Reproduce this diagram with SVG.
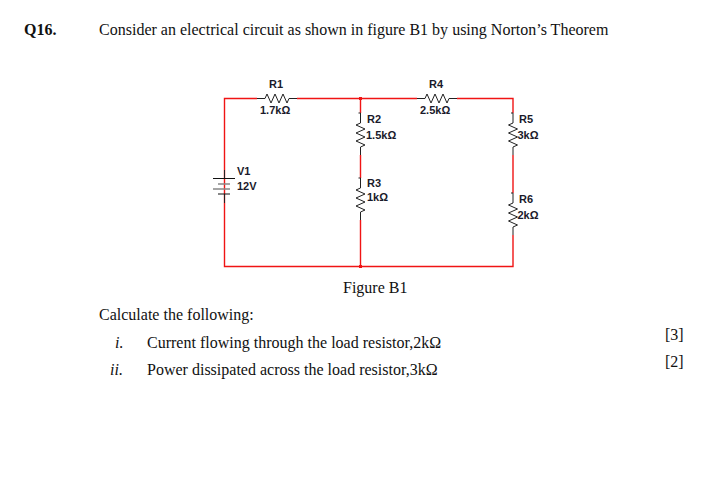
<svg xmlns="http://www.w3.org/2000/svg" width="714" height="487" viewBox="0 0 714 487">
<style>
.t{font-family:"Liberation Serif","Times New Roman",serif;font-size:16.03px;fill:#111}
.i{font-style:italic}
.b{font-weight:bold}
.l{font-family:"Liberation Sans",Arial,sans-serif;font-size:11px;font-weight:bold;fill:#1a1a2a}
.w{fill:none;stroke:#f01414;stroke-width:1.4}
.k{fill:none;stroke:#222;stroke-width:1}
.p{fill:none;stroke:#111;stroke-width:1.2}
.g{fill:none;stroke:#888;stroke-width:1.6}
</style>
<defs>
<path id="rh" class="k" d="M0 0H8L10 -4.500L14 4.500L18 -4.500L22 4.500L26 -4.500L30 4.500L32 0H40"/>
<path id="rv" class="k" d="M-2 0H0V10L-4.500 12L4.500 16L-4.500 20L4.500 24L-4.500 28L4.500 32L0 34V42"/>
</defs>
<rect width="714" height="487" fill="#fff"/>
<g id="connectors">
<path class="w" d="M257 98.500H224.500V203M224.500 203V266.500H513V235M513 193V155M513 113V98.500H457M417 98.500H297M360.500 98.500V113M360.500 155V178M360.500 220V266.500"/>
<rect x="359" y="97" width="3" height="3" fill="#f01414"/>
<rect x="359" y="265" width="3" height="3" fill="#f01414"/>
</g>
<g id="R1"><use href="#rh" x="257" y="98.500"/><text class="l" x="269" y="87.500">R1</text><text class="l" x="260" y="114">1.7kΩ</text></g>
<g id="R4"><use href="#rh" x="417" y="98.500"/><text class="l" x="429" y="87.500">R4</text><text class="l" x="420" y="114">2.5kΩ</text></g>
<g id="R2"><use href="#rv" x="360.500" y="113"/><text class="l" x="367" y="123">R2</text><text class="l" x="366" y="139">1.5kΩ</text></g>
<g id="R3"><use href="#rv" x="360.500" y="178"/><text class="l" x="367" y="187">R3</text><text class="l" x="367" y="201">1kΩ</text></g>
<g id="R5"><use href="#rv" x="513" y="113"/><text class="l" x="519" y="123">R5</text><text class="l" x="517.500" y="139">3kΩ</text></g>
<g id="R6"><use href="#rv" x="513" y="193"/><text class="l" x="519" y="203">R6</text><text class="l" x="517.500" y="219">2kΩ</text></g>
<g id="V1">
<path class="k" d="M224.500 170V178M224.500 194V203"/>
<path class="p" d="M213 178.500H235M218 194H230"/>
<path class="g" d="M218 184H230M213 189H230"/>
<text class="l" x="237" y="175">V1</text><text class="l" x="237" y="190">12V</text>
</g>
<g id="text">
<text class="t b" x="24" y="35">Q16.</text>
<text class="t" x="99" y="35">Consider an electrical circuit as shown in figure B1 by using Norton’s Theorem</text>
<text class="t" x="343" y="293">Figure B1</text>
<text class="t" x="99" y="320">Calculate the following:</text>
<text class="t i" x="115" y="348">i.</text>
<text class="t" x="147" y="348">Current flowing through the load resistor,2kΩ</text>
<text class="t i" x="110" y="375">ii.</text>
<text class="t" x="147" y="375">Power dissipated across the load resistor,3kΩ</text>
<text class="t" x="665" y="340">[3]</text>
<text class="t" x="665" y="367">[2]</text>
</g>
</svg>
